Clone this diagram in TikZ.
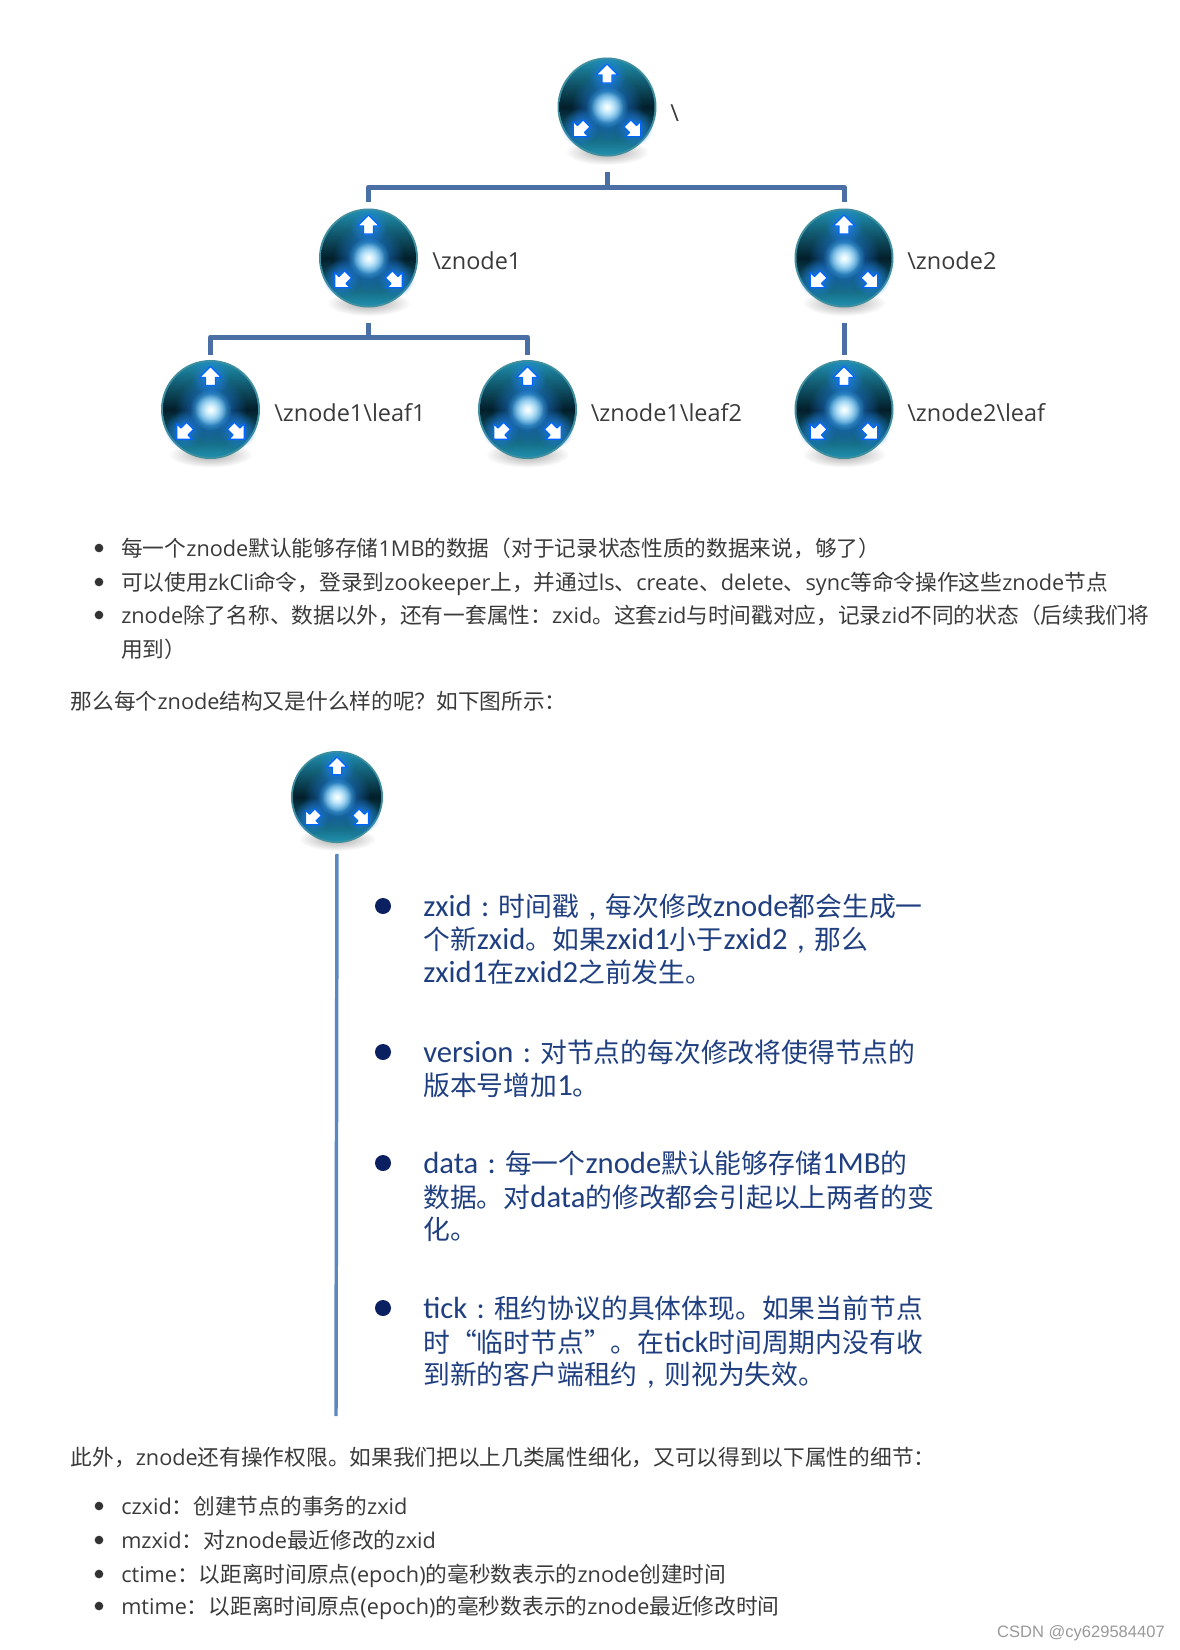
\documentclass[tikz,border=0pt]{standalone}
\usepackage{fontspec}
\setmainfont{Open Sans}
\newfontfamily\zhfont{Noto Sans CJK SC}
\newfontfamily\slidefont{Carlito}
\newfontfamily\markfont{Liberation Sans}
\usetikzlibrary{fadings}
\definecolor{linkblue}{HTML}{4A6FA5}
\definecolor{railblue}{HTML}{5B88C0}
\definecolor{bodygray}{HTML}{3A3A3A}
\definecolor{slideblue}{HTML}{1F3F80}
\definecolor{dotnavy}{HTML}{0A2060}
\definecolor{hubtop}{HTML}{1F8FAE}
\definecolor{hubmid}{HTML}{021E2A}
\definecolor{hubrim}{HTML}{3F8F9F}
\definecolor{hubglow}{HTML}{1F7FE8}
\definecolor{hubcore}{HTML}{70DCFF}
\tikzfading[name=glowfade,inner color=transparent!0,outer color=transparent!100]
\tikzfading[name=corefade,inner color=transparent!0,middle color=transparent!0,outer color=transparent!100]
\newcommand{\zh}[1]{{\zhfont #1}}
\newcommand{\zs}[1]{{\zhfont\fontsize{20.1}{24}\selectfont #1}}
\newcommand{\colonfw}{\hbox to 20.1pt{\hss:\hss}}
\newcommand{\commafw}{\hbox to 20.1pt{\hss,\hss}}
\newcommand{\hubarrow}[1]{\filldraw[white,draw=blue!60!cyan,line width=.9pt,line join=round,#1]
	(0,-11)--(11,0)--(5,0)--(5,8)--(-5,8)--(-5,0)--(-11,0)--cycle;}
\newcommand{\hub}[3]{\begin{scope}[shift={(#2)},scale=#3]
	\shade[inner color=gray!70,outer color=white] (0,45) ellipse (42 and 13);
	\fill[hubrim] (0,0) circle (49.5);
	\shade[top color=hubtop,bottom color=hubtop,middle color=hubmid] (0,0) circle (47.5);
	\fill[color=hubglow,path fading=glowfade] (0,0) circle (36);
	\fill[color=hubcore,path fading=corefade] (0,0) circle (21);
	\fill[color=white,path fading=corefade] (0,0) circle (16);
	\fill[color=hubglow,path fading=glowfade] (0,-32) circle (19);
	\fill[color=hubglow,path fading=glowfade] (-27,20) circle (19);
	\fill[color=hubglow,path fading=glowfade] (27,20) circle (19);
	\begin{scope}[shift={(0,-32)}]\hubarrow{}\end{scope}
	\begin{scope}[shift={(-26,22)}]\hubarrow{rotate=135}\end{scope}
	\begin{scope}[shift={(26,22)}]\hubarrow{rotate=-135}\end{scope}
	\node[hubnode,transform shape] (#1) at (0,0) {};
	\end{scope}}
\tikzset{
	hubnode/.style={circle,minimum size=74.25pt,inner sep=0pt},
	link/.style={linkblue,line width=3.75pt,line join=round},
	rail/.style={railblue,line width=2.6pt},
	hublabel/.style={anchor=base west,inner sep=0pt,text=bodygray,font=\fontsize{17.6}{20}\selectfont},
	bodyline/.style={anchor=base west,inner sep=0pt,text=bodygray,font=\fontsize{16.27}{20}\selectfont},
	slideline/.style={anchor=base west,inner sep=0pt,text=slideblue,font=\slidefont\fontsize{23}{24}\selectfont},
	bodydot/.style={circle,fill=black!80,minimum size=6.5pt,inner sep=0pt},
	slidedot/.style={circle,fill=dotnavy,minimum size=12pt,inner sep=0pt},
	markline/.style={anchor=base east,inner sep=0pt,text=gray!80,font=\markfont\fontsize{12.4}{14}\selectfont}
}
\begin{document}
\begin{tikzpicture}[x=0.75pt,y=-0.75pt]
	\useasboundingbox (0,0) rectangle (1180,1650);
	% tree
	\hub{root}{607,107}{1}
	\hub{znodeone}{368.5,258}{1}
	\hub{znodetwo}{844,258}{1}
	\hub{leafone}{210.5,409.5}{1}
	\hub{leaftwo}{527.5,409.5}{1}
	\hub{leafthree}{844,409.5}{1}
	\coordinate (rootbus) at (607,187);
	\coordinate (onebus) at (368.5,337);
	\draw[link,shorten <=11.25pt] (root.south) -- (rootbus);
	\draw[link,shorten >=4.5pt] (rootbus) -| (znodeone.north);
	\draw[link,shorten >=4.5pt] (rootbus) -| (znodetwo.north);
	\draw[link,shorten <=11.25pt] (znodeone.south) -- (onebus);
	\draw[link,shorten >=3.5pt] (onebus) -| (leafone.north);
	\draw[link,shorten >=3.5pt] (onebus) -| (leaftwo.north);
	\draw[link,shorten <=11.25pt,shorten >=3.5pt] (znodetwo.south) -- (leafthree.north);
	\node[hublabel] (rootlabel) at (670,121) {\textbackslash};
	\node[hublabel] (onelabel) at (432,269) {\textbackslash znode1};
	\node[hublabel] (twolabel) at (907,269) {\textbackslash znode2};
	\node[hublabel] (leafonelabel) at (274,421) {\textbackslash znode1\textbackslash leaf1};
	\node[hublabel] (leaftwolabel) at (590.5,421) {\textbackslash znode1\textbackslash leaf2};
	\node[hublabel] (leafthreelabel) at (907,421) {\textbackslash znode2\textbackslash leaf};
	% first list
	\node[bodydot] (dota) at (99,548) {};
	\node[bodydot] (dotb) at (99,582) {};
	\node[bodydot] (dotc) at (99,615) {};
	\node[bodyline] (linea) at (121,556) {\zh{每一个}znode\zh{默认能够存储}1MB\zh{的数据（对于记录状态性质的数据来说，够了）}};
	\node[bodyline] (lineb) at (121,590) {\zh{可以使用}zkCli\zh{命令，登录到}zookeeper\zh{上，并通过}ls\zh{、}create\zh{、}delete\zh{、}sync\zh{等命令操作这些}znode\zh{节点}};
	\node[bodyline] (linec) at (121,623) {znode\zh{除了名称、数据以外，还有一套属性：}zxid\zh{。这套}zid\zh{与时间戳对应，记录}zid\zh{不同的状态（后续我们将}};
	\node[bodyline] (lined) at (121,657) {\zh{用到）}};
	\node[bodyline] (linee) at (70.5,709) {\zh{那么每个}znode\zh{结构又是什么样的呢？如下图所示：}};
	% one znode
	\hub{single}{337,797}{.93}
	\coordinate (railend) at (336,1416);
	\draw[rail,shorten <=8pt] (single.south) -- (railend);
	\node[slidedot] (dotzxid) at (383,906) {};
	\node[slidedot] (dotversion) at (383,1052) {};
	\node[slidedot] (dotdata) at (383,1163) {};
	\node[slidedot] (dottick) at (383,1308) {};
	\node[slideline] (zxida) at (423,916) {zxid\colonfw\zs{时间戳}\commafw\zs{每次修改}znode\zs{都会生成一}};
	\node[slideline] (zxidb) at (423,949) {\zs{个新}zxid\zs{。如果}zxid1\zs{小于}zxid2\commafw\zs{那么}};
	\node[slideline] (zxidc) at (423,982) {zxid1\zs{在}zxid2\zs{之前发生。}};
	\node[slideline] (versiona) at (423,1062) {version\colonfw\zs{对节点的每次修改将使得节点的}};
	\node[slideline] (versionb) at (423,1095) {\zs{版本号增加}1\zs{。}};
	\node[slideline] (dataa) at (423,1173) {data\colonfw\zs{每一个}znode\zs{默认能够存储}1MB\zs{的}};
	\node[slideline] (datab) at (423,1207) {\zs{数据。对}data\zs{的修改都会引起以上两者的变}};
	\node[slideline] (datac) at (423,1239) {\zs{化。}};
	\node[slideline] (ticka) at (423,1318) {tick\colonfw\zs{租约协议的具体体现。如果当前节点}};
	\node[slideline] (tickb) at (423,1352) {\zs{时“临时节点”。在}tick\zs{时间周期内没有收}};
	\node[slideline] (tickc) at (423,1384) {\zs{到新的客户端租约}\commafw\zs{则视为失效。}};
	% second list
	\node[bodyline] (linef) at (70.5,1465) {\zh{此外，}znode\zh{还有操作权限。如果我们把以上几类属性细化，又可以得到以下属性的细节：}};
	\node[bodydot] (dotf) at (99,1506) {};
	\node[bodydot] (dotg) at (99,1540) {};
	\node[bodydot] (doth) at (99,1574) {};
	\node[bodydot] (doti) at (99,1606) {};
	\node[bodyline] (lineg) at (121,1514) {czxid\zh{：创建节点的事务的}zxid};
	\node[bodyline] (lineh) at (121,1548) {mzxid\zh{：对}znode\zh{最近修改的}zxid};
	\node[bodyline] (linei) at (121,1582) {ctime\zh{：以距离时间原点}(epoch)\zh{的毫秒数表示的}znode\zh{创建时间}};
	\node[bodyline] (linej) at (121,1614) {mtime\zh{：以距离时间原点}(epoch)\zh{的毫秒数表示的}znode\zh{最近修改时间}};
	\node[markline] (mark) at (1165,1637) {CSDN @cy629584407};
\end{tikzpicture}
\end{document}
